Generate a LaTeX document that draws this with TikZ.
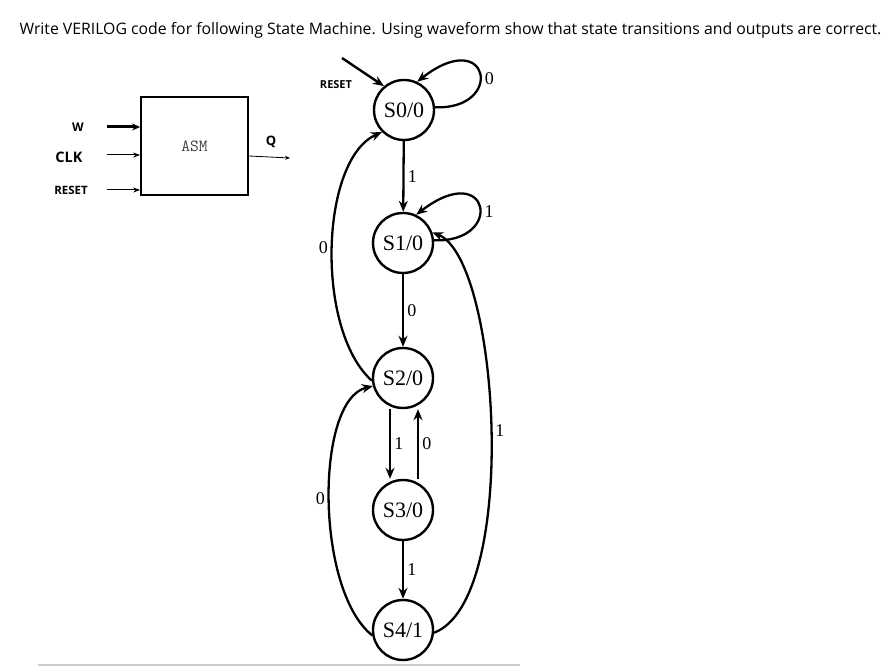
\documentclass[tikz,border=0pt]{standalone}
\usepackage{fontspec}
\setmainfont{Liberation Serif}
\newfontfamily\osans{Open Sans}
\usetikzlibrary{arrows.meta}
\begin{document}
\begin{tikzpicture}[x=1pt,y=-1pt,
  st/.style={circle,draw,line width=2.4pt,minimum size=60pt,inner sep=0pt,font=\fontsize{22}{22}\selectfont},
  tr/.style={line width=2.3pt,-{Stealth[length=11pt,width=9pt]}},
  lb/.style={font=\fontsize{18}{18}\selectfont},
  sl/.style={font=\osans\bfseries\fontsize{12}{13}\selectfont}]
\useasboundingbox (0,0) rectangle (887,668);
\node[anchor=west,font=\osans\fontsize{15.8}{18}\selectfont] (title) at (16,30) {Write VERILOG code for following State Machine. Using waveform show that state transitions and outputs are correct.};
\draw[gray!40,line width=1.5pt] (38,665) -- (520,665);
% block
\node[draw,line width=1.8pt,minimum width=107pt,minimum height=98pt,inner sep=0pt,font=\ttfamily\fontsize{17}{17}\selectfont,text=black!75] (asm) at (194.5,146) {ASM};
\node[sl] (w) at (78,127) {W};
\node[sl,font=\osans\bfseries\fontsize{14.5}{15}\selectfont] (clk) at (69,157) {CLK};
\node[sl,font=\osans\bfseries\fontsize{11.5}{12}\selectfont] (rst) at (71,190) {RESET};
\draw[line width=3pt,-{Stealth[length=8pt,width=7pt]}] (107,127) -- (asm.west |- 0,127);
\draw[line width=1pt,-{Stealth[length=7pt,width=5pt]}] (107,155) -- (asm.west |- 0,155);
\draw[line width=1pt,-{Stealth[length=7pt,width=5pt]}] (107,190) -- (asm.west |- 0,190);
\coordinate (qend) at (290,158);
\draw[line width=0.8pt,-{Stealth[length=5pt,width=4pt]}] (asm.east |- 0,156) -- (qend);
\node[sl,font=\osans\bfseries\fontsize{13}{14}\selectfont] (q) at (271,142) {Q};
% states
\node[st] (s0) at (404,110) {S0/0};
\node[st] (s1) at (403,243) {S1/0};
\node[st] (s2) at (403,378) {S2/0};
\node[st] (s3) at (403,510) {S3/0};
\node[st] (s4) at (403,630) {S4/1};
\node[sl,font=\osans\bfseries\fontsize{11}{12}\selectfont] (rl) at (336,85) {RESET};
\coordinate (rs) at (342,58);
\draw[line width=2.4pt,-{Stealth[length=11pt,width=9pt]}] (rs) -- (s0.130);
\draw[tr] (s0) -- node[lb,right]{1} (s1);
\draw[tr] (s1) -- node[lb,right]{0} (s2);
\draw[tr] (s3) -- node[lb,right]{1} (s4);
\draw[tr] ([xshift=-13pt]s2.south) -- node[lb,right]{1} ([xshift=-13pt]s3.north);
\draw[tr] ([xshift=15pt]s3.north) -- node[lb,right]{0} ([xshift=15pt]s2.south);
\draw[tr] (s0.5) .. controls (505,110) and (490,25) .. node[lb,right,pos=0.45]{0} (s0.65);
\draw[tr] (s1.5) .. controls (505,243) and (490,158) .. node[lb,right,pos=0.45]{1} (s1.65);
\draw[tr] (s2.185) .. controls (315,330) and (320,160) .. node[lb,left,pos=0.5]{0} (s0.225);
\draw[tr] (s4.190) .. controls (315,590) and (315,400) .. node[lb,left,pos=0.5]{0} (s2.195);
\draw[tr] (s4.355) .. controls (520,600) and (500,260) .. node[lb,right,pos=0.5]{1} (s1.20);
\end{tikzpicture}
\end{document}
